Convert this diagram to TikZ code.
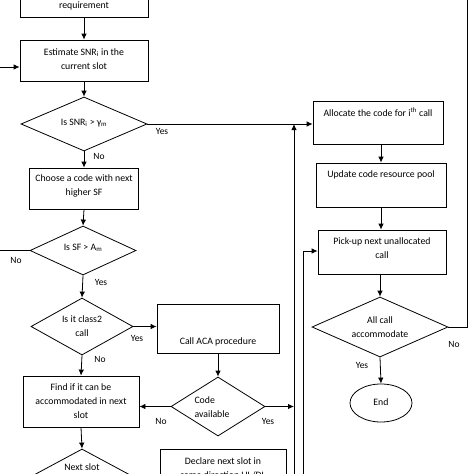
\documentclass[tikz,border=0pt]{standalone}
\usepackage{fontspec}
\setmainfont{Carlito}
\usetikzlibrary{shapes.geometric,arrows.meta}
\begin{document}
\begin{tikzpicture}[x=1pt,y=-1pt,
  box/.style={draw,line width=0.8pt,rectangle,inner sep=0},
  dia/.style={draw,line width=0.8pt,diamond,inner sep=0},
  txt/.style={font=\fontsize{9.8}{13.8}\selectfont,align=center,inner sep=0},
  lbl/.style={font=\fontsize{9.5}{10}\selectfont,inner sep=0},
  ln/.style={line width=0.8pt},
  arr/.style={line width=0.8pt,-{Latex[length=6pt,width=5.5pt]}}]
\useasboundingbox (0,0) rectangle (474,474);
\clip (0,0) rectangle (474,474);
% boxes
\node[box,minimum width=128pt,minimum height=60pt] (req) at (84,-13) {};
\node[txt] (reqt) at (84,6) {requirement};
\node[box,minimum width=128pt,minimum height=41pt] (est) at (84,60.5) {};
\node[txt] (estt) at (84,59) {Estimate SNR\textsubscript{i} in the\\current slot};
\node[dia,minimum width=126pt,minimum height=54pt] (d1) at (84,124) {};
\node[txt] (d1t) at (84,123) {Is SNR\textsubscript{i} > γ\textsubscript{m}};
\node[box,minimum width=109pt,minimum height=41pt] (choose) at (84,188.5) {};
\node[txt] (chooset) at (84,186) {Choose a code with next\\higher SF};
\node[dia,minimum width=106pt,minimum height=49pt] (d3) at (83,250.5) {};
\node[txt] (d3t) at (83,248) {Is SF > A\textsubscript{m}};
\node[dia,minimum width=102pt,minimum height=57pt] (d4) at (82,326.5) {};
\node[txt] (d4t) at (82,326) {Is it class2\\call};
\node[box,minimum width=116pt,minimum height=51pt] (find) at (81,401.5) {};
\node[txt] (findt) at (81,401) {Find if it can be\\accommodated in next\\slot};
\node[dia,minimum width=104pt,minimum height=56pt] (d6) at (82,477) {};
\node[txt] (d6t) at (82,467.5) {Next slot};
\node[box,minimum width=122pt,minimum height=49pt] (aca) at (218,328.5) {};
\node[txt] (acat) at (218,342) {Call ACA procedure};
\node[dia,minimum width=94pt,minimum height=59pt] (d5) at (218,406.5) {};
\node[txt,align=left] (d5t) at (212,407) {Code\\available};
\node[box,minimum width=126pt,minimum height=51pt] (decl) at (223,474.5) {};
\node[txt] (declt) at (223,468.5) {Declare next slot in\\same direction UL/DL};
\node[box,minimum width=130pt,minimum height=43pt] (alloc) at (378,122.5) {};
\node[txt] (allt) at (378,112) {Allocate the code for i\textsuperscript{th} call};
\node[box,minimum width=130pt,minimum height=44pt] (upd) at (381,185) {};
\node[txt] (updt) at (381,175) {Update code resource pool};
\node[box,minimum width=128pt,minimum height=44pt] (pick) at (382,252) {};
\node[txt] (pickt) at (382,248) {Pick-up next unallocated\\call};
\node[dia,minimum width=136pt,minimum height=60pt] (d2) at (380,327) {};
\node[txt] (d2t) at (380,327) {All call\\accommodate};
\node[draw,ellipse,line width=0.8pt,minimum width=62pt,minimum height=38pt,inner sep=0] (end) at (381,403) {};
\node[txt] (endt) at (381,402) {End};
% helper coordinates
\coordinate (inL) at (0,67);
\coordinate (noL) at (0,250.5);
\coordinate (j1) at (294,406.5);
\coordinate (v1b) at (294,490);
\coordinate (v1t) at (294,124);
\coordinate (v2b) at (303,490);
\coordinate (v2t) at (303,251);
\coordinate (r1) at (467,327);
\coordinate (r2) at (467,-10);
% connectors
\draw[arr] (req.south) -- (est.north);
\draw[arr] (inL) -- (inL -| est.west);
\draw[arr] (est.south) -- (d1.north);
\draw[arr] (d1.east) -- (d1.east -| alloc.west);
\draw[arr] (d1.south) -- (choose.north);
\draw[arr] (choose.south) -- (d3.north);
\draw[ln] (d3.west) -- (noL);
\draw[arr] (d3.south) -- (d4.north);
\draw[arr] (d4.east) -- (d4.east -| aca.west);
\draw[arr] (d4.south) -- (find.north);
\draw[arr] (aca.south) -- (d5.north);
\draw[arr] (d5.west) -- (d5.west -| find.east);
\draw[arr] (d5.east) -- (j1);
\draw[arr] (find.south) -- (d6.north);
\draw[arr] (d6.east) -- (d6.east -| decl.west);
\draw[arr] (v1b) -- (v1t);
\draw[arr] (v2b) -- (v2t) -- (v2t -| pick.west);
\draw[arr] (alloc.south -| upd.north) -- (upd.north);
\draw[arr] (upd.south) -- (upd.south |- pick.north);
\draw[arr] (pick.south -| d2.north) -- (d2.north);
\draw[ln] (d2.east) -- (r1) -- (r2);
\draw[arr] (d2.south) -- (end.north);
% labels
\node[lbl] (y1) at (162,131) {Yes};
\node[lbl] (n1) at (99,156) {No};
\node[lbl] (n3) at (16,260) {No};
\node[lbl] (y3) at (101,282) {Yes};
\node[lbl] (y4) at (137,338) {Yes};
\node[lbl] (n4) at (100,359) {No};
\node[lbl] (n5) at (161,421) {No};
\node[lbl] (y5) at (268,421) {Yes};
\node[lbl] (n2) at (454,344) {No};
\node[lbl] (y2) at (362,365) {Yes};
\end{tikzpicture}
\end{document}
